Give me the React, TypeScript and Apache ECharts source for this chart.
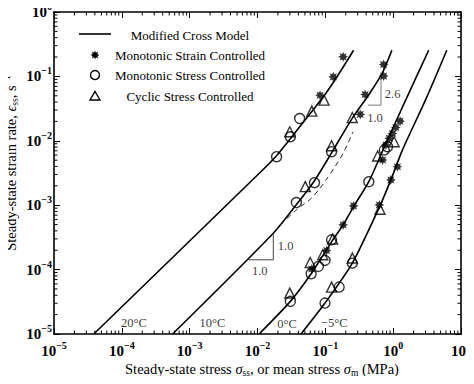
import { useEffect, useRef } from "react";
import * as echarts from "echarts";

const SERIF = "'Liberation Serif', 'DejaVu Serif', serif";

// Modified Cross Model curves [stress MPa, strain rate 1/s]
const curve20 = [
  [3.86e-5, 1e-5], [0.0115, 3.4e-3], [0.0185, 5.66e-3], [0.0305, 0.0108],
  [0.0598, 0.0265], [0.0989, 0.0524], [0.1462, 0.096], [0.261, 0.2547],
];
const curve10 = [
  [5.6e-4, 1e-5], [0.0171, 3.67e-4], [0.0383, 1.05e-3], [0.0692, 2.4e-3],
  [0.1236, 6.5e-3], [0.25, 0.0225], [0.4375, 0.052], [0.684, 0.11], [0.957, 0.2547],
];
const curve0 = [
  [0.01057, 1e-5], [0.0305, 3.21e-5], [0.0618, 8.61e-5], [0.1236, 2.7e-4],
  [0.183, 4.94e-4], [0.261, 9.51e-4], [0.4375, 2.32e-3], [0.782, 9.12e-3],
  [1.528, 0.0428], [3.34, 0.2547],
];
const curveM5 = [
  [0.0438, 1e-5], [0.0989, 3.02e-5], [0.25, 1.26e-4], [0.625, 9.29e-4],
  [0.925, 2.47e-3], [1.368, 7.18e-3], [2.99, 0.0428], [6.18, 0.2547],
];
const dashedFit = [
  [0.0219, 5.0e-4], [0.0383, 8.65e-4], [0.0598, 1.236e-3], [0.0836, 1.83e-3],
  [0.1045, 2.55e-3], [0.131, 3.61e-3], [0.183, 6.38e-3], [0.256, 0.0138],
];

// Experimental points
const strainPts = [
  [0.183, 0.201], [0.131, 0.0984], [0.0836, 0.0511], [0.723, 0.153], [0.723, 0.101],
  [0.386, 0.0524], [0.327, 0.0257], [0.0632, 1.02e-4], [0.1045, 1.98e-4], [0.183, 4.94e-4],
  [0.261, 9.75e-4], [0.7, 5.03e-3], [1.265, 0.0202], [1.094, 0.0161], [0.977, 0.013],
  [0.875, 0.0109], [0.782, 8.59e-3], [0.625, 1.01e-3], [0.925, 2.47e-3], [1.156, 3.96e-3],
];
const stressPts = [
  [0.0191, 5.66e-3], [0.0305, 0.01156], [0.0418, 0.0222], [0.0374, 1.1e-3], [0.0692, 2.24e-3],
  [0.1236, 6.77e-3], [0.0305, 3.21e-5], [0.0618, 8.61e-5], [0.079, 1.12e-4], [0.0989, 1.39e-4],
  [0.1236, 2.9e-4], [0.4375, 2.32e-3], [0.74, 7.18e-3], [0.826, 8.09e-3], [0.0989, 3.02e-5],
  [0.16, 5.35e-5], [0.25, 1.26e-4],
];
const cyclicPts = [
  [0.0299, 0.0138], [0.0632, 0.0289], [0.0957, 0.0428], [0.0506, 1.94e-3], [0.1236, 8.39e-3],
  [0.25, 0.023], [0.0299, 4.32e-5], [0.0598, 1.29e-4], [0.0914, 1.7e-4], [0.128, 2.97e-4],
  [0.591, 5.8e-3], [1.035, 9.67e-3], [0.1236, 5.35e-5], [0.25, 1.51e-4], [0.64, 8.65e-4],
];

// Slope triangles
const slopeLow = [[7.15e-3, 1.42e-4], [0.0171, 1.42e-4], [0.0171, 3.67e-4]];
const slopeHigh = [[0.423, 0.0358], [0.661, 0.0358], [0.661, 0.0984]];
const slopeLabels = [
  { name: "1.0", value: [0.026, 2.34e-4] },
  { name: "1.0", value: [0.0108, 9.35e-5] },
  { name: "2.6", value: [0.98, 0.0524] },
  { name: "1.0", value: [0.54, 0.023] },
];
const tempLabels = [
  { name: "20°C", value: [1.51e-4, 1.48e-5] },
  { name: "10°C", value: [2.16e-3, 1.48e-5] },
  { name: "0°C", value: [0.0273, 1.42e-5] },
  { name: "−5°C", value: [0.135, 1.48e-5] },
];

const xTickExps = [-5, -4, -3, -2, -1, 0, 1];
const yTickExps = [-5, -4, -3, -2, -1, 0];

const legendItems = [
  "Modified Cross Model",
  "Monotonic Strain Controlled",
  "Monotonic Stress Controlled",
  "Cyclic Stress Controlled",
];

function starPts(cx: number, cy: number, R: number, r: number) {
  const pts: number[][] = [];
  for (let i = 0; i < 16; i++) {
    const a = -Math.PI / 2 + (i * Math.PI) / 8;
    const rad = i % 2 ? r : R;
    pts.push([cx + rad * Math.cos(a), cy + rad * Math.sin(a)]);
  }
  return pts;
}
function starPath() {
  const p = starPts(10, 10, 10, 5.5);
  return "path://" + p.map((q, i) => (i ? "L" : "M") + q[0].toFixed(2) + " " + q[1].toFixed(2)).join(" ") + " Z";
}

function minorVals(lo: number, hi: number) {
  const out: number[] = [];
  for (let k = lo; k < hi; k++) for (let m = 2; m <= 9; m++) out.push(m * Math.pow(10, k));
  return out;
}

function expLabel(v: number, exps: number[]) {
  const e = Math.round(Math.log10(v));
  if (exps.indexOf(e) < 0) return "";
  const s = e < 0 ? "−" + Math.abs(e) : String(e);
  return "{b|10}{s|" + s + "}";
}

const tickRich = {
  b: { fontSize: 15, fontFamily: SERIF, fontWeight: "bold", color: "#000" },
  s: { fontSize: 10, fontFamily: SERIF, fontWeight: "bold", color: "#000", padding: [0, 0, 11, 0] },
};

export default function App() {
  const ref = useRef<HTMLDivElement>(null);
  useEffect(() => {
    if (!ref.current) return;
    const chart = echarts.init(ref.current, undefined, { renderer: "svg" });
    const axisLine = { show: true, onZero: false, lineStyle: { color: "#000", width: 1.6 } };
    const axisTick = { show: true, inside: true, length: 6, lineStyle: { color: "#000", width: 1 } };
    const curveStyle = { color: "#000", width: 1.6 };
    const lineSeries = (data: number[][]) => ({
      type: "line", data, symbol: "none", smooth: 0.25, lineStyle: curveStyle, z: 3, silent: true,
    });
    const option: any = {
      animation: false,
      grid: { left: 54, right: 8, top: 12, bottom: 50 },
      xAxis: [
        {
          type: "log", logBase: 10, min: 1e-5, max: 10, position: "bottom",
          axisLine, axisTick, splitLine: { show: false },
          axisLabel: { margin: 6, formatter: (v: number) => expLabel(v, xTickExps), rich: tickRich, showMinLabel: true, showMaxLabel: true },
        },
        {
          type: "log", logBase: 10, min: 1e-5, max: 10, position: "top",
          axisLine, axisTick, splitLine: { show: false }, axisLabel: { show: false },
        },
      ],
      yAxis: [
        {
          type: "log", logBase: 10, min: 1e-5, max: 1, position: "left",
          axisLine, axisTick, splitLine: { show: false },
          axisLabel: { margin: 2, formatter: (v: number) => expLabel(v, yTickExps), rich: tickRich, showMinLabel: true, showMaxLabel: true },
        },
        {
          type: "log", logBase: 10, min: 1e-5, max: 1, position: "right",
          axisLine, axisTick, splitLine: { show: false }, axisLabel: { show: false },
        },
      ],
      series: [
        {
          type: "custom", silent: true, z: 1,
          data: minorVals(-5, 1).map((v) => [v, 1e-5]),
          renderItem: (params: any, api: any) => {
            const cs = params.coordSys;
            const px = api.coord([api.value(0), 1e-5])[0];
            const st = { stroke: "#000", lineWidth: 1 };
            return {
              type: "group",
              children: [
                { type: "line", shape: { x1: px, y1: cs.y + cs.height, x2: px, y2: cs.y + cs.height - 3.5 }, style: st },
                { type: "line", shape: { x1: px, y1: cs.y, x2: px, y2: cs.y + 3.5 }, style: st },
              ],
            };
          },
        },
        {
          type: "custom", silent: true, z: 1,
          data: minorVals(-5, 0).map((v) => [1e-5, v]),
          renderItem: (params: any, api: any) => {
            const cs = params.coordSys;
            const py = api.coord([1e-5, api.value(1)])[1];
            const st = { stroke: "#000", lineWidth: 1 };
            return {
              type: "group",
              children: [
                { type: "line", shape: { x1: cs.x, y1: py, x2: cs.x + 3.5, y2: py }, style: st },
                { type: "line", shape: { x1: cs.x + cs.width, y1: py, x2: cs.x + cs.width - 3.5, y2: py }, style: st },
              ],
            };
          },
        },
        lineSeries(curve20),
        lineSeries(curve10),
        lineSeries(curve0),
        lineSeries(curveM5),
        {
          type: "line", data: dashedFit, symbol: "none", smooth: 0.25, silent: true, z: 3,
          lineStyle: { color: "#222", width: 1, type: [5, 4] },
        },
        { type: "line", data: slopeLow, symbol: "none", silent: true, lineStyle: { color: "#444", width: 1 } },
        { type: "line", data: slopeHigh, symbol: "none", silent: true, lineStyle: { color: "#777", width: 1 } },
        {
          type: "scatter", data: slopeLabels.concat(tempLabels), symbolSize: 0, silent: true,
          label: { show: true, position: "inside", formatter: "{b}", color: "#000", fontSize: 12.5, fontFamily: SERIF },
        },
        {
          name: legendItems[1], type: "scatter", data: strainPts, symbol: starPath(), symbolSize: 10, z: 5,
          itemStyle: { color: "#000" },
        },
        {
          name: legendItems[2], type: "scatter", data: stressPts, symbol: "circle", symbolSize: 10, z: 5,
          itemStyle: { color: "rgba(0,0,0,0)", borderColor: "#000", borderWidth: 1.4 },
        },
        {
          name: legendItems[3], type: "scatter", data: cyclicPts, symbol: "triangle", symbolSize: 10, z: 5,
          itemStyle: { color: "rgba(0,0,0,0)", borderColor: "#000", borderWidth: 1.4 },
        },
      ],
      graphic: [
        { type: "line", shape: { x1: 79, y1: 34, x2: 111, y2: 34 }, style: { stroke: "#000", lineWidth: 1.6 } },
        { type: "polygon", shape: { points: starPts(95, 55, 4.5, 2.5) }, style: { fill: "#000" } },
        { type: "circle", shape: { cx: 95, cy: 75, r: 4.5 }, style: { fill: "none", stroke: "#000", lineWidth: 1.4 } },
        { type: "polygon", shape: { points: [[95, 91.5], [100, 100], [90, 100]] }, style: { fill: "none", stroke: "#000", lineWidth: 1.4 } },
        ...legendItems.map((t, i) => ({
          type: "text", x: 190, y: [35, 55, 75, 96][i],
          style: { text: t, fill: "#000", font: "13px " + SERIF, align: "center", verticalAlign: "middle" },
        })),
        {
          type: "text", x: 262, y: 369,
          style: {
            text: "{n|Steady-state stress }{i|σ}{sub|ss}{n|, or mean stress }{i|σ}{sub|m}{n| (MPa)}",
            align: "center", verticalAlign: "middle",
            rich: {
              n: { fontSize: 14.5, fontFamily: SERIF, fill: "#000" },
              i: { fontSize: 14.5, fontFamily: SERIF, fontStyle: "italic", fill: "#000" },
              sub: { fontSize: 9.5, fontFamily: SERIF, fill: "#000", padding: [8, 0, 0, 0] },
            },
          },
        },
        {
          type: "text", x: 11, y: 163, rotation: Math.PI / 2,
          style: {
            text: "{n|Steady-state strain rate, }{i|ϵ̇}{sub|ss}{n|, s}{sup|−1}",
            align: "center", verticalAlign: "middle",
            rich: {
              n: { fontSize: 14.5, fontFamily: SERIF, fill: "#000" },
              i: { fontSize: 14.5, fontFamily: SERIF, fontStyle: "italic", fill: "#000" },
              sub: { fontSize: 9.5, fontFamily: SERIF, fill: "#000", padding: [8, 0, 0, 0] },
              sup: { fontSize: 9.5, fontFamily: SERIF, fill: "#000", padding: [0, 0, 9, 0] },
            },
          },
        },
      ],
    };
    chart.setOption(option);
    return () => chart.dispose();
  }, []);
  return <div ref={ref} style={{ width: 474, height: 384, margin: -8 }} />;
}
